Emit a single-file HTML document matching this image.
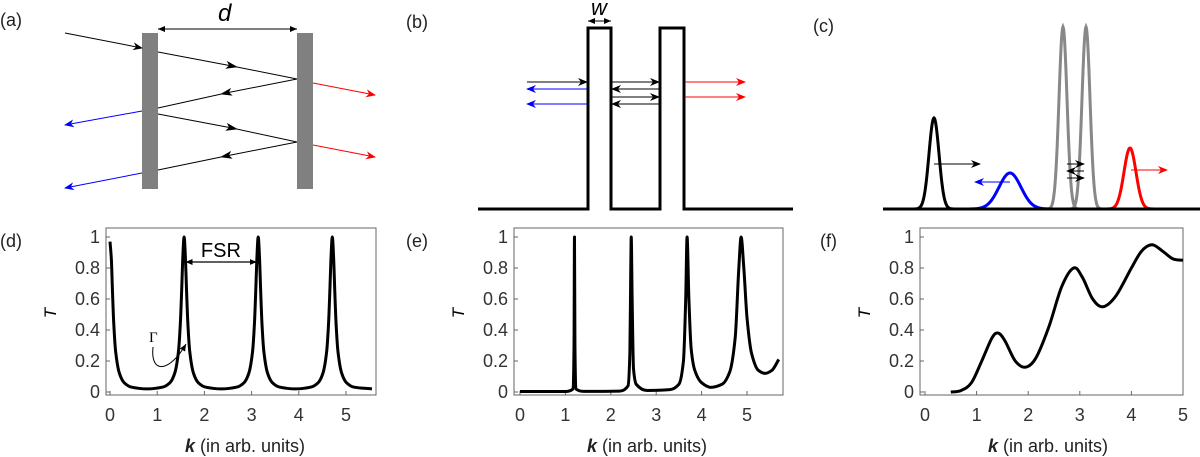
<!DOCTYPE html>
<html><head><meta charset="utf-8"><style>
body{margin:0;background:#fff;}
svg{display:block;font-family:"Liberation Sans",sans-serif;}
</style></head><body>
<svg id="fig" width="1200" height="457" viewBox="0 0 1200 457">
<defs>
<marker id="ak" markerWidth="10" markerHeight="8" refX="9" refY="4" orient="auto" markerUnits="userSpaceOnUse"><path d="M0,0 L10,4 L0,8 L3,4z" fill="#000"/></marker>
<marker id="ab" markerWidth="10" markerHeight="8" refX="9" refY="4" orient="auto" markerUnits="userSpaceOnUse"><path d="M0,0 L10,4 L0,8 L3,4z" fill="#00f"/></marker>
<marker id="ar" markerWidth="10" markerHeight="8" refX="9" refY="4" orient="auto" markerUnits="userSpaceOnUse"><path d="M0,0 L10,4 L0,8 L3,4z" fill="#f00"/></marker>
<marker id="am" markerWidth="12" markerHeight="8" refX="6" refY="4" orient="auto" markerUnits="userSpaceOnUse"><path d="M0,0 L12,4 L0,8 L3,4z" fill="#000"/></marker>
<marker id="as" markerWidth="7" markerHeight="6" refX="7" refY="3" orient="auto-start-reverse" markerUnits="userSpaceOnUse"><path d="M0,0 L7,3 L0,6z" fill="#000"/></marker>
</defs>

<!-- panel a -->
<g font-size="18">
<text x="0" y="26" fill="#222">(a)</text>
<rect x="142" y="33" width="16" height="156" fill="#808080"/>
<rect x="297" y="33" width="16" height="156" fill="#808080"/>
<line x1="158" y1="29" x2="297" y2="29" stroke="#333" stroke-width="1.2" marker-start="url(#as)" marker-end="url(#as)"/>
<text x="218" y="21" font-size="24" font-style="italic">d</text>
<g stroke="#000" stroke-width="1" fill="none">
<line x1="65" y1="33" x2="142" y2="48" marker-end="url(#ak)"/>
<polyline points="158,52 232,66 297,79" marker-mid="url(#am)"/>
<polyline points="297,79 226,93 158,108" marker-mid="url(#am)"/>
<polyline points="158,114 232,128 297,142" marker-mid="url(#am)"/>
<polyline points="297,142 226,156 158,170" marker-mid="url(#am)"/>
</g>
<line x1="313" y1="83" x2="375" y2="95" stroke="#f00" marker-end="url(#ar)"/>
<line x1="313" y1="145" x2="375" y2="157" stroke="#f00" marker-end="url(#ar)"/>
<line x1="142" y1="111" x2="65" y2="125" stroke="#00f" marker-end="url(#ab)"/>
<line x1="142" y1="173" x2="65" y2="188" stroke="#00f" marker-end="url(#ab)"/>
</g>

<!-- panel b -->
<g font-size="18">
<text x="406" y="28" fill="#222">(b)</text>
<polyline points="478,209 588,209 588,28 611,28 611,209 660,209 660,28 684,28 684,209 793,209" fill="none" stroke="#000" stroke-width="3"/>
<line x1="588" y1="21" x2="611" y2="21" stroke="#000" marker-start="url(#as)" marker-end="url(#as)"/>
<text x="591" y="15" font-size="22" font-style="italic">w</text>
<g stroke-width="1">
<line x1="527" y1="82" x2="587" y2="82" stroke="#000" marker-end="url(#ak)"/>
<line x1="587" y1="89" x2="527" y2="89" stroke="#00f" marker-end="url(#ab)"/>
<line x1="587" y1="104" x2="527" y2="104" stroke="#00f" marker-end="url(#ab)"/>
<line x1="612" y1="82" x2="659" y2="82" stroke="#000" marker-end="url(#ak)"/>
<line x1="612" y1="97" x2="659" y2="97" stroke="#000" marker-end="url(#ak)"/>
<line x1="659" y1="89" x2="612" y2="89" stroke="#000" marker-end="url(#ak)"/>
<line x1="659" y1="104" x2="612" y2="104" stroke="#000" marker-end="url(#ak)"/>
<line x1="685" y1="82" x2="745" y2="82" stroke="#f00" marker-end="url(#ar)"/>
<line x1="685" y1="97" x2="745" y2="97" stroke="#f00" marker-end="url(#ar)"/>
</g>
</g>

<!-- panel c -->
<g id="pc" font-size="18">
<text x="813" y="32" fill="#222">(c)</text>
<g id="packets"></g>
<line x1="883" y1="209" x2="1200" y2="209" stroke="#000" stroke-width="3"/>
<line x1="934" y1="164" x2="980" y2="164" stroke="#000" marker-end="url(#ak)"/>
<line x1="1010" y1="182" x2="975" y2="182" stroke="#00f" marker-end="url(#ab)"/>
<line x1="1131" y1="170" x2="1167" y2="170" stroke="#f00" marker-end="url(#ar)"/>
<line x1="1067" y1="164" x2="1084" y2="164" stroke="#000" marker-end="url(#ak)"/>
<line x1="1084" y1="171" x2="1067" y2="171" stroke="#000" marker-end="url(#ak)"/>
<line x1="1067" y1="178" x2="1084" y2="178" stroke="#000" marker-end="url(#ak)"/>
</g>

<g id="pd"></g>
<g id="pe"></g>
<g id="pf"></g>
</svg>
<script>
const NS="http://www.w3.org/2000/svg";
// panel (c) wave packets
const packetCenters=[934,1010,1063,1086,1130];
const packetHeights=[91,36,182,182,61];
const packetWidths=[5,11,4,4,6];
const packetColors=["#000","#00f","#888","#888","#f00"];
// panel (d)
const dK=[0,.03,.05,.08,.12,.2,.3,.45,.785,1.12,1.27,1.37,1.45,1.49,1.52,1.54,1.57,1.60,1.62,1.65,1.69,1.77,1.87,2.02,2.36,2.69,2.84,2.94,3.02,3.06,3.09,3.11,3.14,3.17,3.19,3.22,3.26,3.34,3.44,3.59,3.93,4.26,4.41,4.51,4.59,4.63,4.66,4.68,4.71,4.74,4.76,4.79,4.83,4.91,5.01,5.16,5.55];
const dT=[.97,.85,.67,.44,.26,.12,.06,.032,.02,.032,.06,.12,.26,.44,.67,.85,1,.85,.67,.44,.26,.12,.06,.032,.02,.032,.06,.12,.26,.44,.67,.85,1,.85,.67,.44,.26,.12,.06,.032,.02,.032,.06,.12,.26,.44,.67,.85,1,.85,.67,.44,.26,.12,.06,.032,.02];
// panel (e)
const eK=[0,1.0,1.17,1.19,1.2,1.21,1.23,1.4,2.2,2.38,2.42,2.44,2.45,2.47,2.5,2.56,2.8,3.3,3.5,3.6,3.65,3.68,3.72,3.77,3.85,4.0,4.2,4.45,4.62,4.74,4.82,4.87,4.93,5.0,5.1,5.25,5.4,5.55,5.7];
const eT=[.003,.003,.02,.3,1,.3,.02,.004,.006,.04,.25,.8,1,.6,.15,.05,.01,.015,.05,.2,.6,1,.6,.28,.14,.06,.03,.05,.13,.35,.8,1,.8,.48,.25,.14,.12,.14,.21];
// panel (f)
const fK=[.5,.7,.9,1.1,1.3,1.42,1.55,1.75,1.95,2.15,2.4,2.65,2.88,3.05,3.25,3.45,3.7,4.0,4.2,4.4,4.6,4.8,5.0];
const fT=[0,.01,.06,.2,.35,.38,.33,.2,.16,.22,.42,.68,.8,.74,.6,.55,.62,.8,.91,.95,.91,.86,.85];
const xTicks=["0","1","2","3","4","5"];
const yTicks=["0","0.2","0.4","0.6","0.8","1"];

function el(tag,attrs,parent){const e=document.createElementNS(NS,tag);for(const k in attrs)e.setAttribute(k,attrs[k]);parent.appendChild(e);return e;}

const pk=document.getElementById('packets');
packetCenters.forEach((c,i)=>{
  let d="";
  for(let x=c-5*packetWidths[i];x<=c+5*packetWidths[i];x+=0.5){
    const y=209-packetHeights[i]*Math.exp(-((x-c)**2)/(2*packetWidths[i]**2));
    d+=(d?"L":"M")+x.toFixed(1)+","+y.toFixed(1);
  }
  const p=el('path',{d:d,fill:"none",stroke:packetColors[i],"stroke-width":3},pk);
  
  
});

function monoPath(pts){
  const n=pts.length,dx=[],m=[],t=[];
  for(let i=0;i<n-1;i++){dx[i]=pts[i+1][0]-pts[i][0];m[i]=(pts[i+1][1]-pts[i][1])/dx[i];}
  t[0]=m[0];t[n-1]=m[n-2];
  for(let i=1;i<n-1;i++){
    if(m[i-1]*m[i]<=0)t[i]=0;
    else{const w1=2*dx[i]+dx[i-1],w2=dx[i]+2*dx[i-1];t[i]=(w1+w2)/(w1/m[i-1]+w2/m[i]);}
  }
  let d="M"+pts[0][0]+","+pts[0][1];
  for(let i=0;i<n-1;i++){
    const h=dx[i]/3;
    d+=`C${pts[i][0]+h},${pts[i][1]+t[i]*h} ${pts[i+1][0]-h},${pts[i+1][1]-t[i+1]*h} ${pts[i+1][0]},${pts[i+1][1]}`;
  }
  return d;
}
function crPath(pts){
  let d="M"+pts[0][0]+","+pts[0][1];
  for(let i=0;i<pts.length-1;i++){
    const p0=pts[Math.max(0,i-1)],p1=pts[i],p2=pts[i+1],p3=pts[Math.min(pts.length-1,i+2)];
    d+=`C${p1[0]+(p2[0]-p0[0])/6},${p1[1]+(p2[1]-p0[1])/6} ${p2[0]-(p3[0]-p1[0])/6},${p2[1]-(p3[1]-p1[1])/6} ${p2[0]},${p2[1]}`;
  }
  return d;
}

function panel(id,label,labelX,box,xUnit,x0,ks,ts,titleX,smooth){
  const g=document.getElementById(id);
  const X=k=>x0+k*xUnit, Y=t=>392-t*155;
  const lab=el('text',{x:labelX,y:247,"font-size":18,fill:"#222"},g);lab.textContent=label;
  
  
  const fr=el('rect',{x:box[0],y:228,width:box[1]-box[0],height:167,fill:"none",stroke:"#666","stroke-width":1},g);
  
  
  xTicks.forEach((t)=>{
    const x=X(+t);
    el('line',{x1:x,y1:395,x2:x,y2:391,stroke:"#666"},g);
    const tx=el('text',{x:x,y:421,"font-size":18,fill:"#333","text-anchor":"middle"},g);tx.textContent=t;
    
    
  });
  yTicks.forEach(t=>{
    const y=Y(+t);
    el('line',{x1:box[0],y1:y,x2:box[0]+4,y2:y,stroke:"#666"},g);
    const tx=el('text',{x:box[0]-6,y:y+6,"font-size":18,fill:"#333","text-anchor":"end"},g);tx.textContent=t;
    
    
  });
  const yt=el('text',{x:0,y:0,"font-size":17,"font-style":"italic",transform:`translate(${box[0]-50},313) rotate(-90)`,"text-anchor":"middle"},g);yt.textContent="T";
  
  
  const xt=el('text',{x:titleX,y:452,"font-size":18,fill:"#222","text-anchor":"middle"},g);
  xt.innerHTML='<tspan font-style="italic" font-weight="bold">k</tspan> (in arb. units)';
  
  
  const pts=ks.map((k,i)=>[X(k),Y(ts[i])]);
  const c=el('path',{d:smooth?crPath(pts):monoPath(pts),fill:"none",stroke:"#000","stroke-width":3,"stroke-linejoin":"round"},g);
  
  
  return {g,X,Y};
}
const d=panel('pd','(d)',0,[106,376],47.2,110,dK,dT,245,false);
panel('pe','(e)',406,[514,783],45.4,520,eK,eT,647,false);
panel('pf','(f)',820,[920,1183],51.6,925,fK,fT,1048,true);
const fsr=el('line',{x1:d.X(1.6),y1:262,x2:d.X(3.11),y2:262,stroke:"#000","stroke-width":1.2,"marker-start":"url(#as)","marker-end":"url(#as)"},d.g);


const ft=el('text',{x:d.X(2.35),y:257,"font-size":20,"text-anchor":"middle"},d.g);ft.textContent="FSR";


const gt=el('text',{x:149,y:342,"font-size":15,"font-family":"Liberation Serif"},d.g);gt.textContent="Γ";


const ga=el('path',{d:"M153,347 C150,375 170,372 186,344",fill:"none",stroke:"#000","stroke-width":1,"marker-end":"url(#as)"},d.g);


</script>
</body></html>
